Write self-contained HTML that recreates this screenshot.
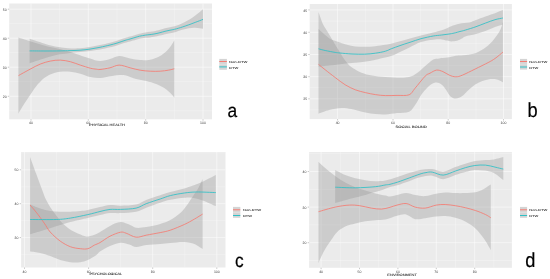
<!DOCTYPE html>
<html lang="en"><head><meta charset="utf-8"><title>Figure</title><style>html,body{margin:0;padding:0;background:#fff;overflow:hidden}body{width:550px;height:279px}</style></head><body>
<svg width="550" height="279" viewBox="0 0 550 279" text-rendering="geometricPrecision" style="display:block;font-family:'Liberation Sans',Arial,sans-serif">
<rect width="550" height="279" fill="#fff"/>
<g>
<clipPath id="cpa"><rect x="9.2" y="3.5" width="202.8" height="115.8"/></clipPath>
<rect x="9.2" y="3.5" width="202.8" height="115.8" fill="#ebebeb"/>
<path d="M9.2 23.7H212.0M9.2 52.7H212.0M9.2 81.7H212.0M9.2 110.8H212.0M59.7 3.5V119.3M117.0 3.5V119.3M174.3 3.5V119.3" stroke="#ffffff" stroke-width="0.25" fill="none"/>
<path d="M9.2 9.2H212.0M9.2 38.2H212.0M9.2 67.2H212.0M9.2 96.3H212.0M31.0 3.5V119.3M88.3 3.5V119.3M145.7 3.5V119.3M203.0 3.5V119.3" stroke="#ffffff" stroke-width="0.5" fill="none"/>
<g clip-path="url(#cpa)">
<path d="M18.4 37.5C20.2 38.1 25.4 39.8 29.4 41.0C33.4 42.2 38.0 43.7 42.3 44.9C46.6 46.1 50.9 47.0 55.2 48.1C59.5 49.2 64.0 50.1 68.1 51.3C72.2 52.5 76.3 54.0 80.0 55.2C83.7 56.4 86.7 57.5 90.0 58.5C93.3 59.5 96.7 61.0 100.0 61.1C103.3 61.2 106.8 59.9 110.0 59.1C113.2 58.3 115.8 56.2 119.1 56.1C122.4 56.0 126.6 57.8 130.1 58.5C133.6 59.2 136.8 59.9 140.2 60.1C143.5 60.3 147.2 60.2 150.2 59.7C153.2 59.2 155.8 58.2 158.2 57.1C160.5 56.0 162.5 54.6 164.3 53.1C166.2 51.6 167.6 50.2 169.3 48.1C171.0 46.0 173.5 41.7 174.3 40.4L174.3 97.7C173.6 96.9 172.0 94.7 170.3 93.1C168.6 91.5 166.7 89.6 164.3 88.1C162.0 86.6 159.2 85.3 156.2 84.1C153.2 82.9 149.5 81.9 146.2 81.1C142.8 80.3 139.4 80.0 136.1 79.1C132.8 78.2 128.9 76.3 126.1 75.6C123.3 74.9 121.8 74.9 119.1 75.0C116.4 75.1 113.1 75.8 110.0 76.3C106.9 76.8 103.7 77.9 100.4 78.0C97.1 78.1 93.8 77.8 90.4 77.1C87.1 76.4 83.7 74.6 80.3 73.7C76.9 72.8 73.6 72.0 70.3 71.7C67.0 71.4 63.2 71.4 60.2 71.7C57.2 72.0 54.9 72.6 52.2 73.7C49.5 74.8 46.9 76.0 44.2 78.1C41.5 80.2 38.5 83.6 36.1 86.4C33.8 89.2 32.1 92.0 30.1 95.0C28.1 98.0 26.1 101.0 24.1 104.1C22.2 107.2 19.3 112.1 18.4 113.7Z" fill="#999999" fill-opacity="0.37"/>
<path d="M29.6 38.8C31.7 39.5 38.0 41.6 42.3 42.9C46.6 44.2 50.9 45.5 55.2 46.4C59.5 47.3 64.0 47.9 68.1 48.2C72.2 48.5 76.3 48.5 80.0 48.3C83.7 48.1 86.7 47.6 90.0 47.1C93.3 46.6 96.7 45.8 100.0 45.1C103.3 44.4 107.2 43.4 110.0 42.7C112.8 42.0 114.5 41.6 117.0 40.8C119.5 40.0 122.8 38.7 125.0 38.0C127.2 37.3 128.2 37.1 130.0 36.6C131.8 36.1 134.4 35.2 136.0 34.7C137.6 34.2 137.9 34.1 139.5 33.7C141.1 33.3 143.7 32.7 145.4 32.4C147.2 32.1 148.6 32.0 150.0 31.8C151.4 31.6 152.3 31.5 154.0 31.2C155.7 30.9 158.2 30.3 160.0 29.8C161.8 29.3 163.3 28.7 165.0 28.3C166.7 27.9 168.4 27.5 170.0 27.2C171.6 26.9 172.9 26.8 174.5 26.3C176.1 25.9 177.8 25.3 179.7 24.5C181.6 23.7 184.0 22.5 186.2 21.3C188.3 20.1 190.7 18.7 192.6 17.4C194.5 16.1 196.1 14.9 197.8 13.6C199.5 12.2 202.1 10.0 203.0 9.3L203.0 28.7C201.7 28.6 197.6 27.9 195.2 27.8C192.8 27.7 191.0 28.0 188.8 28.3C186.7 28.6 184.5 29.2 182.3 29.8C180.1 30.4 177.9 31.3 175.8 31.9C173.8 32.5 171.8 32.8 170.0 33.2C168.2 33.6 166.7 33.9 165.0 34.3C163.3 34.7 161.8 35.2 160.0 35.6C158.2 36.0 155.7 36.5 154.0 36.8C152.3 37.1 151.4 37.2 150.0 37.4C148.6 37.6 147.2 37.6 145.4 37.8C143.7 38.0 141.1 38.4 139.5 38.7C137.9 39.0 137.6 39.2 136.0 39.7C134.4 40.2 131.8 40.9 130.0 41.4C128.2 41.9 127.2 42.1 125.0 42.8C122.8 43.5 119.5 44.6 117.0 45.4C114.5 46.1 112.8 46.6 110.0 47.3C107.2 48.0 103.3 48.9 100.0 49.5C96.7 50.1 93.3 50.7 90.0 51.1C86.7 51.5 83.7 51.8 80.0 52.1C76.3 52.5 72.2 52.7 68.1 53.2C64.0 53.7 59.5 54.2 55.2 55.2C50.9 56.2 46.6 57.8 42.3 59.1C38.0 60.5 31.7 62.6 29.6 63.3Z" fill="#999999" fill-opacity="0.37"/>
<path d="M18.5 75.6C20.4 74.5 26.5 71.1 30.1 69.2C33.7 67.3 36.9 65.4 40.2 64.1C43.6 62.7 46.9 61.8 50.2 61.1C53.5 60.4 56.9 60.0 60.2 60.1C63.6 60.2 67.0 60.9 70.3 61.7C73.6 62.5 76.9 64.0 80.3 65.1C83.7 66.2 87.7 67.5 90.4 68.2C93.1 68.9 94.8 69.0 96.4 69.2C98.0 69.4 97.7 69.7 100.0 69.5C102.3 69.3 106.8 68.5 110.0 67.8C113.2 67.1 115.8 65.1 119.1 65.1C122.4 65.1 126.6 66.9 130.1 67.8C133.6 68.7 136.8 69.6 140.2 70.2C143.5 70.8 146.9 71.0 150.2 71.2C153.5 71.4 157.2 71.4 160.2 71.2C163.2 71.0 166.0 70.6 168.3 70.2C170.7 69.8 173.3 69.0 174.3 68.8" fill="none" stroke="#f47c72" stroke-width="0.85"/>
<path d="M29.6 50.9C32.2 50.9 39.9 51.0 45.0 51.0C50.1 51.0 55.8 51.0 60.0 50.9C64.2 50.8 66.7 50.7 70.0 50.6C73.3 50.5 76.7 50.5 80.0 50.2C83.3 50.0 86.7 49.6 90.0 49.1C93.3 48.6 96.7 48.0 100.0 47.3C103.3 46.6 107.2 45.7 110.0 45.0C112.8 44.3 114.5 43.9 117.0 43.1C119.5 42.3 122.8 41.1 125.0 40.4C127.2 39.7 128.2 39.5 130.0 39.0C131.8 38.5 134.4 37.7 136.0 37.2C137.6 36.7 137.9 36.6 139.5 36.2C141.1 35.9 143.7 35.4 145.4 35.1C147.2 34.8 148.6 34.8 150.0 34.6C151.4 34.4 152.3 34.3 154.0 34.0C155.7 33.7 158.2 33.2 160.0 32.7C161.8 32.2 163.3 31.7 165.0 31.3C166.7 30.9 168.4 30.5 170.0 30.2C171.6 29.9 172.4 29.8 174.5 29.3C176.6 28.8 179.9 27.8 182.3 27.0C184.7 26.2 186.7 25.6 188.8 24.8C191.0 24.0 192.8 23.3 195.2 22.4C197.6 21.5 201.7 19.9 203.0 19.4" fill="none" stroke="#2fc0c6" stroke-width="0.85"/>
</g>
<path d="M7.8 9.2H9.2M7.8 38.2H9.2M7.8 67.2H9.2M7.8 96.3H9.2M31.0 119.3V120.7M88.3 119.3V120.7M145.7 119.3V120.7M203.0 119.3V120.7" stroke="#777" stroke-width="0.4" fill="none"/>
<g font-size="3.5" fill="#3a3a3a">
<text x="6.6" y="10.6" text-anchor="end">50</text>
<text x="6.6" y="39.7" text-anchor="end">40</text>
<text x="6.6" y="68.7" text-anchor="end">30</text>
<text x="6.6" y="97.8" text-anchor="end">20</text>
<text x="31.0" y="123.8" text-anchor="middle">40</text>
<text x="88.3" y="123.8" text-anchor="middle">60</text>
<text x="145.7" y="123.8" text-anchor="middle">80</text>
<text x="203.0" y="123.8" text-anchor="middle">100</text>
</g>
<text x="89.0" y="126.4" font-size="3.3" fill="#1a1a1a" stroke="#1a1a1a" stroke-width="0.06" textLength="36.0" lengthAdjust="spacingAndGlyphs">PHYSICAL HEALTH</text>
<rect x="219.3" y="58.9" width="7.6" height="10.9" fill="#d4d4d4"/>
<path d="M219.3 64.3H226.9" stroke="#fff" stroke-width="0.3"/>
<path d="M219.3 61.5H226.9" stroke="#f47c72" stroke-width="1"/>
<path d="M219.3 66.9H226.9" stroke="#2fc0c6" stroke-width="1"/>
<g font-size="2.9" fill="#222" stroke="#222" stroke-width="0.05">
<text x="229.1" y="63.0" textLength="18.2" lengthAdjust="spacingAndGlyphs">Non-RTW</text>
<text x="229.1" y="68.5" textLength="9.1" lengthAdjust="spacingAndGlyphs">RTW</text>
</g>
<text transform="translate(232.2 116.8) scale(0.9 1)" font-size="19.3" fill="#000" stroke="#000" stroke-width="0.2" text-anchor="middle">a</text>
</g>
<g>
<clipPath id="cpb"><rect x="309.7" y="4.0" width="202.2" height="115.1"/></clipPath>
<rect x="309.7" y="4.0" width="202.2" height="115.1" fill="#ebebeb"/>
<path d="M309.7 21.1H511.9M309.7 43.4H511.9M309.7 65.6H511.9M309.7 87.7H511.9M309.7 109.9H511.9M365.3 4.0V119.1M420.7 4.0V119.1M476.0 4.0V119.1" stroke="#ffffff" stroke-width="0.25" fill="none"/>
<path d="M309.7 9.9H511.9M309.7 32.3H511.9M309.7 54.5H511.9M309.7 76.7H511.9M309.7 98.8H511.9M337.6 4.0V119.1M393.0 4.0V119.1M448.2 4.0V119.1M503.5 4.0V119.1" stroke="#ffffff" stroke-width="0.5" fill="none"/>
<g clip-path="url(#cpb)">
<path d="M318.5 12.0C319.2 14.0 321.5 20.9 322.9 24.0C324.3 27.1 325.5 28.4 326.8 30.5C328.1 32.6 329.4 34.8 330.7 36.9C332.0 39.0 333.2 41.2 334.5 43.4C335.8 45.5 337.1 47.6 338.4 49.8C339.7 51.9 341.2 54.6 342.3 56.3C343.4 58.0 343.9 58.8 344.8 60.0C345.7 61.2 346.6 62.5 347.8 63.8C349.0 65.1 350.1 66.3 352.0 67.6C353.9 68.9 356.4 70.5 359.3 71.7C362.2 73.0 365.6 74.2 369.3 75.1C373.0 75.9 376.8 76.4 381.4 76.8C386.0 77.2 392.4 77.7 397.0 77.7C401.6 77.8 405.8 77.9 409.1 77.1C412.5 76.3 414.4 74.9 417.1 73.1C419.8 71.3 422.5 68.3 425.2 66.1C427.9 63.8 430.9 60.9 433.2 59.6C435.5 58.3 436.9 58.7 439.2 58.4C441.5 58.1 444.4 58.0 447.2 57.6C450.0 57.2 452.9 56.2 456.0 55.8C459.1 55.4 462.7 55.5 466.0 55.0C469.3 54.5 472.6 54.3 476.0 53.0C479.4 51.7 483.2 49.4 486.2 47.1C489.2 44.8 491.9 41.9 494.2 39.0C496.5 36.1 498.8 32.8 500.2 30.0C501.6 27.2 502.4 23.3 502.9 22.0L502.9 82.2C502.2 81.9 500.4 80.7 499.0 80.2C497.6 79.7 496.4 79.2 494.6 79.1C492.8 79.0 490.2 79.0 488.1 79.4C486.0 79.8 483.9 80.5 481.7 81.3C479.5 82.1 477.3 83.1 475.2 84.5C473.1 85.9 470.9 87.8 468.8 89.7C466.7 91.6 464.4 94.5 462.3 96.0C460.2 97.5 458.0 98.5 456.0 98.6C454.0 98.7 452.0 97.8 450.5 96.5C449.0 95.2 448.1 92.8 446.8 91.0C445.5 89.2 444.2 87.1 442.9 85.8C441.6 84.5 440.3 83.5 439.0 83.0C437.7 82.5 436.7 82.2 435.2 82.6C433.7 83.0 431.7 84.0 430.0 85.2C428.3 86.4 426.7 88.4 425.2 90.0C423.7 91.6 422.8 92.5 421.1 95.0C419.4 97.5 417.1 102.3 415.1 105.1C413.1 107.9 412.1 110.4 409.1 111.7C406.1 113.0 400.9 112.6 397.0 113.1C393.1 113.6 389.0 114.3 385.4 114.5C381.8 114.7 378.8 114.4 375.4 114.1C372.0 113.8 369.3 113.3 365.3 112.5C361.3 111.7 355.3 109.8 351.3 109.1C347.3 108.4 344.9 107.9 341.2 108.1C337.5 108.3 333.0 109.2 329.2 110.1C325.4 111.0 320.3 113.1 318.5 113.7Z" fill="#999999" fill-opacity="0.37"/>
<path d="M318.5 29.1C319.6 30.1 323.1 33.4 325.2 35.1C327.3 36.8 328.7 38.3 331.2 39.5C333.7 40.7 337.4 41.6 340.0 42.5C342.6 43.4 344.4 44.1 347.0 44.8C349.6 45.4 352.4 46.1 355.3 46.4C358.2 46.7 361.1 46.8 364.5 46.8C367.9 46.8 371.9 46.5 375.4 46.2C378.9 45.9 382.7 45.2 385.4 44.8C388.1 44.4 389.3 44.2 391.7 43.6C394.1 43.0 396.9 42.1 400.0 41.2C403.1 40.3 406.5 39.4 410.0 38.4C413.5 37.4 417.1 36.4 421.0 35.4C424.9 34.4 429.8 33.4 433.2 32.5C436.6 31.6 439.4 30.9 441.7 30.2C444.0 29.5 445.4 29.0 447.0 28.3C448.6 27.6 449.2 27.0 451.3 26.2C453.4 25.4 456.3 24.3 459.3 23.7C462.3 23.1 466.5 23.1 469.3 22.5C472.1 21.9 473.3 21.1 476.0 20.1C478.7 19.1 482.2 17.6 485.4 16.5C488.6 15.3 492.1 14.3 495.0 13.2C497.9 12.1 501.6 10.5 502.9 10.0L502.9 24.5C501.6 24.9 497.9 26.0 495.0 27.1C492.1 28.2 488.6 29.9 485.4 31.1C482.2 32.3 479.4 33.2 476.0 34.1C472.6 35.0 467.6 35.8 465.3 36.5C463.0 37.2 463.4 37.8 462.0 38.5C460.6 39.2 458.8 40.3 457.0 40.8C455.2 41.3 453.0 41.4 451.3 41.4C449.6 41.4 448.6 40.9 447.0 40.6C445.4 40.3 444.0 39.5 441.7 39.4C439.4 39.3 436.6 39.4 433.2 39.8C429.8 40.2 424.9 40.8 421.0 42.0C417.1 43.2 413.5 45.5 410.0 47.2C406.5 48.9 403.1 50.6 400.0 52.0C396.9 53.4 395.4 54.6 391.7 55.8C388.0 57.0 382.5 58.2 378.0 59.2C373.5 60.2 368.8 61.1 364.5 61.7C360.2 62.3 356.1 62.6 352.0 63.0C347.9 63.4 343.8 63.8 340.0 64.2C336.2 64.6 332.8 65.2 329.2 65.6C325.6 66.0 320.3 66.6 318.5 66.8Z" fill="#999999" fill-opacity="0.37"/>
<path d="M318.5 64.4C319.6 65.3 322.2 67.4 325.0 69.6C327.8 71.8 331.8 75.0 335.2 77.5C338.6 80.0 341.8 82.8 345.2 84.8C348.6 86.8 351.9 88.5 355.3 89.8C358.7 91.1 362.0 91.8 365.3 92.6C368.6 93.4 372.0 94.1 375.4 94.6C378.8 95.1 381.8 95.5 385.4 95.6C389.0 95.7 393.1 95.5 397.0 95.4C400.9 95.3 406.1 96.0 409.1 94.8C412.1 93.6 412.4 91.3 415.1 88.2C417.8 85.1 422.7 78.6 425.2 76.1C427.7 73.6 428.1 74.2 430.0 73.2C431.9 72.2 434.4 70.4 436.5 70.1C438.6 69.8 440.8 70.8 442.9 71.6C445.0 72.4 447.2 74.3 449.4 75.2C451.5 76.1 453.6 76.8 455.8 76.8C458.0 76.8 459.1 76.5 462.3 75.2C465.5 73.9 470.9 71.1 475.2 69.0C479.5 66.9 484.8 64.3 488.1 62.6C491.4 60.9 492.5 60.2 495.0 58.5C497.5 56.8 501.6 53.2 502.9 52.1" fill="none" stroke="#f47c72" stroke-width="0.85"/>
<path d="M318.5 48.8C319.6 49.1 322.4 49.9 325.2 50.5C328.0 51.1 332.7 52.0 335.2 52.4C337.7 52.8 337.2 52.7 340.0 53.0C342.8 53.3 347.9 53.8 352.0 54.0C356.1 54.2 360.6 54.3 364.5 54.2C368.4 54.1 371.9 53.7 375.4 53.2C378.9 52.7 382.7 52.0 385.4 51.2C388.1 50.4 389.3 49.5 391.7 48.6C394.1 47.7 396.9 46.7 400.0 45.6C403.1 44.5 406.5 43.4 410.0 42.3C413.5 41.1 417.1 39.8 421.0 38.7C424.9 37.7 429.8 36.6 433.2 36.0C436.6 35.4 438.9 35.4 441.7 35.0C444.5 34.6 447.7 34.3 450.0 33.9C452.3 33.5 453.6 33.2 455.3 32.8C457.0 32.4 458.3 31.9 460.0 31.5C461.7 31.1 462.6 30.9 465.3 30.1C468.0 29.3 472.6 27.9 476.0 26.7C479.4 25.5 482.2 24.3 485.4 23.1C488.6 21.9 492.1 20.6 495.0 19.7C497.9 18.8 501.6 18.3 502.9 18.0" fill="none" stroke="#2fc0c6" stroke-width="0.85"/>
</g>
<path d="M308.3 9.9H309.7M308.3 32.3H309.7M308.3 54.5H309.7M308.3 76.7H309.7M308.3 98.8H309.7M337.6 119.1V120.5M393.0 119.1V120.5M448.2 119.1V120.5M503.5 119.1V120.5" stroke="#777" stroke-width="0.4" fill="none"/>
<g font-size="3.5" fill="#3a3a3a">
<text x="307.1" y="11.5" text-anchor="end">45</text>
<text x="307.1" y="33.9" text-anchor="end">40</text>
<text x="307.1" y="56.1" text-anchor="end">35</text>
<text x="307.1" y="78.2" text-anchor="end">30</text>
<text x="307.1" y="100.4" text-anchor="end">25</text>
<text x="337.6" y="123.7" text-anchor="middle">40</text>
<text x="393.0" y="123.7" text-anchor="middle">60</text>
<text x="448.2" y="123.7" text-anchor="middle">80</text>
<text x="503.5" y="123.7" text-anchor="middle">100</text>
</g>
<text x="395.4" y="128.0" font-size="3.3" fill="#1a1a1a" stroke="#1a1a1a" stroke-width="0.06" textLength="31.4" lengthAdjust="spacingAndGlyphs">SOCIAL BOUND</text>
<rect x="520.0" y="58.9" width="7.1" height="10.7" fill="#d4d4d4"/>
<path d="M520.0 64.2H527.1" stroke="#fff" stroke-width="0.3"/>
<path d="M520.0 61.5H527.1" stroke="#f47c72" stroke-width="1"/>
<path d="M520.0 67.0H527.1" stroke="#2fc0c6" stroke-width="1"/>
<g font-size="2.9" fill="#222" stroke="#222" stroke-width="0.05">
<text x="529.3" y="63.0" textLength="17.9" lengthAdjust="spacingAndGlyphs">Non-RTW</text>
<text x="529.3" y="68.5" textLength="9.0" lengthAdjust="spacingAndGlyphs">RTW</text>
</g>
<text transform="translate(532.6 117.2) scale(0.9 1)" font-size="20.3" fill="#000" stroke="#000" stroke-width="0.2" text-anchor="middle">b</text>
</g>
<g>
<clipPath id="cpc"><rect x="21.1" y="152.0" width="204.4" height="115.5"/></clipPath>
<rect x="21.1" y="152.0" width="204.4" height="115.5" fill="#ebebeb"/>
<path d="M21.1 152.9H225.5M21.1 186.8H225.5M21.1 220.7H225.5M21.1 254.6H225.5M56.6 152.0V267.5M120.7 152.0V267.5M184.8 152.0V267.5" stroke="#ffffff" stroke-width="0.25" fill="none"/>
<path d="M21.1 169.8H225.5M21.1 203.7H225.5M21.1 237.6H225.5M24.5 152.0V267.5M88.6 152.0V267.5M152.7 152.0V267.5M216.8 152.0V267.5" stroke="#ffffff" stroke-width="0.5" fill="none"/>
<g clip-path="url(#cpc)">
<path d="M30.1 157.0C31.1 159.7 34.0 167.8 36.0 173.3C38.0 178.8 40.5 185.6 42.2 190.0C43.9 194.4 44.5 196.7 46.2 200.0C47.9 203.3 50.2 207.1 52.2 210.1C54.2 213.1 56.5 215.9 58.2 218.1C59.9 220.3 60.5 221.4 62.2 223.1C63.9 224.8 66.0 226.6 68.3 228.2C70.6 229.8 73.6 231.5 76.3 232.8C79.0 234.1 82.3 235.4 84.3 236.0C86.3 236.6 86.4 236.8 88.4 236.5C90.4 236.2 94.5 234.8 96.4 234.0C98.3 233.2 97.7 233.3 100.0 232.0C102.3 230.7 106.6 227.6 110.0 225.9C113.4 224.2 117.2 222.2 120.5 222.1C123.8 222.0 127.5 224.1 130.1 225.1C132.7 226.1 133.4 227.5 136.1 227.8C138.8 228.1 142.2 227.7 146.2 227.1C150.2 226.5 156.2 225.3 160.2 224.1C164.2 222.9 167.0 221.9 170.3 220.1C173.7 218.3 177.6 215.4 180.3 213.1C183.0 210.8 184.6 208.3 186.3 206.1C188.0 203.9 189.1 202.0 190.4 200.0C191.8 198.0 193.1 196.0 194.4 194.0C195.7 192.0 197.0 190.5 198.4 188.0C199.8 185.5 201.9 180.6 202.6 179.1L202.6 249.1C201.2 248.3 197.4 245.3 194.4 244.1C191.4 242.9 188.3 242.3 184.3 242.1C180.3 241.9 174.3 242.8 170.3 243.1C166.3 243.4 164.2 243.8 160.2 244.1C156.2 244.4 150.2 244.6 146.2 245.1C142.2 245.6 138.8 247.2 136.1 247.1C133.4 247.0 132.7 245.4 130.1 244.7C127.5 244.0 123.8 242.5 120.5 242.7C117.2 242.9 113.4 244.6 110.0 246.1C106.6 247.6 102.3 250.1 100.0 251.6C97.7 253.1 98.4 253.7 96.4 255.1C94.4 256.5 90.5 258.9 87.8 260.1C85.1 261.3 83.2 261.9 80.3 262.2C77.4 262.5 73.6 262.5 70.3 262.2C67.0 261.9 63.6 261.1 60.2 260.1C56.9 259.1 53.5 257.3 50.2 256.1C46.9 254.9 43.6 253.9 40.2 253.1C36.9 252.3 31.8 251.8 30.1 251.5Z" fill="#999999" fill-opacity="0.37"/>
<path d="M30.1 204.5C31.8 205.2 36.9 207.4 40.2 208.5C43.6 209.6 46.9 210.6 50.2 211.1C53.5 211.6 56.9 211.6 60.2 211.7C63.6 211.8 67.0 211.8 70.3 211.7C73.6 211.6 77.4 211.4 80.3 211.1C83.2 210.8 84.5 210.8 87.8 210.1C91.1 209.4 96.3 207.9 100.0 207.1C103.7 206.3 106.6 205.3 110.0 205.1C113.4 204.9 116.2 205.8 120.5 205.7C124.8 205.6 131.8 205.4 136.1 204.5C140.4 203.6 142.2 201.6 146.2 200.0C150.2 198.4 156.2 196.5 160.2 195.2C164.2 193.9 166.3 193.1 170.3 192.0C174.3 190.9 180.7 189.4 184.4 188.4C188.1 187.4 189.3 186.9 192.3 185.8C195.3 184.7 198.7 183.6 202.6 181.8C206.5 180.0 213.6 176.2 215.8 175.1L215.8 206.1C213.6 205.2 206.5 201.8 202.6 200.4C198.7 199.0 195.4 198.2 192.4 197.8C189.4 197.4 188.0 197.5 184.3 197.8C180.6 198.1 174.3 199.0 170.3 199.8C166.3 200.6 164.2 201.5 160.2 202.8C156.2 204.1 150.2 206.2 146.2 207.7C142.2 209.2 140.4 210.8 136.1 211.7C131.8 212.6 124.8 212.9 120.5 213.1C116.2 213.3 113.4 212.8 110.0 213.1C106.6 213.4 103.7 214.3 100.0 215.1C96.3 215.9 91.1 217.3 87.8 218.1C84.5 218.9 83.2 219.0 80.3 219.7C77.4 220.4 73.6 221.2 70.3 222.1C67.0 223.0 63.6 224.1 60.2 225.1C56.9 226.1 53.5 227.2 50.2 228.2C46.9 229.2 43.6 230.2 40.2 231.2C36.9 232.2 31.8 233.7 30.1 234.2Z" fill="#999999" fill-opacity="0.37"/>
<path d="M30.1 205.1C31.1 206.3 33.8 209.1 36.1 212.1C38.5 215.1 41.9 219.8 44.2 223.1C46.6 226.4 47.5 229.0 50.2 232.0C52.9 235.0 56.9 238.7 60.2 241.1C63.6 243.5 67.0 245.4 70.3 246.7C73.6 248.0 77.4 248.4 80.3 248.7C83.2 249.0 85.4 249.3 87.8 248.7C90.2 248.1 92.4 246.1 94.4 245.1C96.4 244.1 97.4 244.1 100.0 242.6C102.6 241.1 106.6 237.9 110.0 236.2C113.4 234.5 117.8 232.7 120.5 232.2C123.2 231.7 123.5 232.4 126.1 233.2C128.7 234.0 132.8 236.9 136.1 237.2C139.4 237.5 142.2 236.0 146.2 235.2C150.2 234.4 156.2 233.4 160.2 232.6C164.2 231.8 166.3 231.5 170.3 230.2C174.3 228.8 180.3 226.3 184.3 224.5C188.3 222.7 191.4 220.8 194.4 219.1C197.4 217.4 201.2 214.9 202.6 214.1" fill="none" stroke="#f47c72" stroke-width="0.85"/>
<path d="M30.1 219.5C34.5 219.5 49.5 219.7 56.2 219.5C62.9 219.3 65.0 218.9 70.3 218.1C75.6 217.3 82.8 215.7 87.8 214.6C92.8 213.5 96.3 212.4 100.0 211.5C103.7 210.6 106.6 209.8 110.0 209.4C113.4 209.1 116.2 209.6 120.5 209.4C124.8 209.2 131.8 209.1 136.1 208.1C140.4 207.1 142.2 205.2 146.2 203.7C150.2 202.2 156.2 200.3 160.2 199.0C164.2 197.7 166.3 196.6 170.3 195.6C174.3 194.6 180.0 193.6 184.3 193.0C188.7 192.4 191.2 192.1 196.4 192.0C201.7 191.9 212.6 192.5 215.8 192.6" fill="none" stroke="#2fc0c6" stroke-width="0.85"/>
</g>
<path d="M19.7 169.8H21.1M19.7 203.7H21.1M19.7 237.6H21.1M24.5 267.5V268.9M88.6 267.5V268.9M152.7 267.5V268.9M216.8 267.5V268.9" stroke="#777" stroke-width="0.4" fill="none"/>
<g font-size="3.5" fill="#3a3a3a">
<text x="18.5" y="171.2" text-anchor="end">50</text>
<text x="18.5" y="205.1" text-anchor="end">40</text>
<text x="18.5" y="239.0" text-anchor="end">30</text>
<text x="24.5" y="272.6" text-anchor="middle">40</text>
<text x="88.6" y="272.6" text-anchor="middle">60</text>
<text x="152.7" y="272.6" text-anchor="middle">80</text>
<text x="216.8" y="272.6" text-anchor="middle">100</text>
</g>
<text x="89.4" y="275.2" font-size="3.3" fill="#1a1a1a" stroke="#1a1a1a" stroke-width="0.06" textLength="32.7" lengthAdjust="spacingAndGlyphs">PSYCHOLOGICAL</text>
<rect x="233.0" y="206.9" width="7.3" height="10.9" fill="#d4d4d4"/>
<path d="M233.0 212.3H240.3" stroke="#fff" stroke-width="0.3"/>
<path d="M233.0 209.8H240.3" stroke="#f47c72" stroke-width="1"/>
<path d="M233.0 215.5H240.3" stroke="#2fc0c6" stroke-width="1"/>
<g font-size="2.9" fill="#222" stroke="#222" stroke-width="0.05">
<text x="243.0" y="211.4" textLength="18.0" lengthAdjust="spacingAndGlyphs">Non-RTW</text>
<text x="243.0" y="216.8" textLength="9.0" lengthAdjust="spacingAndGlyphs">RTW</text>
</g>
<text transform="translate(239.3 267.4) scale(0.9 1)" font-size="19.3" fill="#000" stroke="#000" stroke-width="0.2" text-anchor="middle">c</text>
</g>
<g>
<clipPath id="cpd"><rect x="309.1" y="152.0" width="202.8" height="115.8"/></clipPath>
<rect x="309.1" y="152.0" width="202.8" height="115.8" fill="#ebebeb"/>
<path d="M309.1 153.7H511.9M309.1 189.3H511.9M309.1 224.9H511.9M309.1 260.5H511.9M340.3 152.0V267.8M378.7 152.0V267.8M417.1 152.0V267.8M455.5 152.0V267.8M493.9 152.0V267.8" stroke="#ffffff" stroke-width="0.25" fill="none"/>
<path d="M309.1 171.5H511.9M309.1 207.1H511.9M309.1 242.7H511.9M321.1 152.0V267.8M359.5 152.0V267.8M397.9 152.0V267.8M436.3 152.0V267.8M474.7 152.0V267.8" stroke="#ffffff" stroke-width="0.5" fill="none"/>
<g clip-path="url(#cpd)">
<path d="M318.5 161.7C319.6 162.8 322.4 165.7 325.2 168.1C328.0 170.5 331.9 173.7 335.2 176.1C338.5 178.5 341.8 180.8 345.2 182.6C348.6 184.4 351.9 185.9 355.3 187.2C358.7 188.5 362.0 189.5 365.3 190.5C368.6 191.5 372.0 192.6 375.4 193.4C378.8 194.2 383.0 195.0 385.4 195.5C387.8 196.0 388.1 196.6 390.0 196.5C391.9 196.4 394.3 195.7 397.0 195.1C399.7 194.5 403.1 193.1 406.1 193.1C409.1 193.1 411.9 194.6 415.1 195.1C418.3 195.6 421.7 196.3 425.2 196.1C428.7 195.9 432.9 194.3 436.2 193.7C439.5 193.1 442.0 192.5 445.2 192.4C448.4 192.3 451.9 193.0 455.3 193.1C458.7 193.2 462.0 193.2 465.3 193.1C468.6 192.9 472.4 192.8 475.4 192.2C478.4 191.5 480.8 190.5 483.4 189.2C486.0 187.9 489.6 185.4 490.8 184.6L490.8 250.1C489.7 248.3 486.8 242.7 484.2 239.1C481.6 235.5 478.5 231.4 475.4 228.5C472.2 225.6 468.6 223.4 465.3 221.6C462.0 219.8 458.7 218.7 455.3 217.8C451.9 216.9 448.4 216.3 445.2 216.1C442.0 215.9 439.5 216.2 436.2 216.5C432.9 216.8 428.7 217.8 425.2 218.2C421.7 218.6 418.3 219.8 415.1 219.2C411.9 218.6 409.1 215.1 406.1 214.5C403.1 213.9 400.4 214.9 397.0 215.7C393.6 216.5 389.0 218.8 385.4 219.5C381.8 220.2 378.8 219.9 375.4 220.2C372.0 220.5 368.6 220.6 365.3 221.2C362.0 221.8 358.7 222.6 355.3 223.5C351.9 224.4 348.2 225.1 345.2 226.5C342.2 227.9 339.5 229.7 337.2 232.0C334.9 234.3 333.2 237.2 331.2 240.1C329.2 242.9 326.9 246.3 325.2 249.1C323.5 251.9 322.2 254.8 321.1 257.1C320.0 259.5 318.9 262.2 318.5 263.2Z" fill="#999999" fill-opacity="0.37"/>
<path d="M335.2 170.1C336.9 170.9 341.8 173.8 345.2 175.1C348.6 176.4 351.9 177.3 355.3 178.2C358.7 179.0 362.0 179.7 365.3 180.2C368.6 180.7 372.0 181.1 375.4 181.2C378.8 181.2 381.7 181.2 385.4 180.5C389.1 179.8 393.4 178.3 397.4 177.1C401.3 175.9 405.2 174.3 409.1 173.1C413.1 171.9 417.2 170.4 421.1 169.7C425.0 169.0 428.5 168.8 432.2 169.1C435.9 169.4 439.3 172.0 443.2 171.7C447.1 171.4 451.6 168.4 455.3 167.1C459.0 165.8 462.1 164.7 465.3 163.7C468.6 162.7 471.5 161.7 474.8 161.1C478.1 160.5 482.2 160.4 485.4 160.1C488.6 159.8 490.8 159.9 493.8 159.4C496.8 158.9 501.7 157.4 503.3 157.0L503.3 180.1C501.7 178.9 496.8 174.7 493.8 173.1C490.8 171.5 488.6 171.0 485.4 170.5C482.2 170.0 478.1 169.8 474.8 170.1C471.5 170.4 468.6 171.3 465.3 172.1C462.1 172.9 459.0 173.9 455.3 175.1C451.6 176.3 447.1 179.1 443.2 179.2C439.3 179.3 435.9 176.0 432.2 175.7C428.5 175.3 425.0 176.2 421.1 177.1C417.2 178.0 413.1 179.8 409.1 181.2C405.2 182.5 400.6 184.2 397.4 185.2C394.2 186.2 392.7 186.2 390.0 187.0C387.3 187.8 384.5 189.2 381.4 190.2C378.3 191.2 374.0 192.2 371.3 193.0C368.6 193.8 368.0 194.2 365.3 194.9C362.6 195.7 358.7 196.6 355.3 197.5C351.9 198.4 348.6 199.3 345.2 200.2C341.8 201.1 336.9 202.5 335.2 203.0Z" fill="#999999" fill-opacity="0.37"/>
<path d="M318.5 211.7C321.3 210.9 330.1 208.2 335.2 207.1C340.3 206.0 345.2 205.3 349.3 205.1C353.4 204.9 356.0 205.2 359.7 205.7C363.4 206.2 367.7 207.5 371.3 208.1C374.9 208.7 378.3 209.2 381.4 209.1C384.5 209.0 387.4 208.0 390.0 207.3C392.6 206.6 394.3 205.7 397.0 205.1C399.7 204.5 403.1 203.2 406.1 203.5C409.1 203.8 411.9 206.3 415.1 207.1C418.3 207.9 421.7 208.4 425.2 208.1C428.7 207.8 432.9 205.7 436.2 205.1C439.5 204.5 442.0 204.4 445.2 204.5C448.4 204.6 451.9 205.2 455.3 205.7C458.7 206.2 462.0 206.9 465.3 207.7C468.6 208.5 472.0 209.4 475.4 210.5C478.8 211.6 482.8 213.3 485.4 214.5C488.0 215.7 489.9 217.2 490.8 217.8" fill="none" stroke="#f47c72" stroke-width="0.85"/>
<path d="M335.2 187.2C338.6 187.3 348.6 187.9 355.3 187.8C362.0 187.7 370.4 187.2 375.4 186.7C380.3 186.2 382.6 185.4 385.0 185.0C387.4 184.6 387.9 184.8 390.0 184.3C392.1 183.8 395.2 182.9 397.4 182.2C399.6 181.5 401.1 180.9 403.0 180.2C404.9 179.5 407.2 178.7 409.1 178.0C411.0 177.3 412.5 176.7 414.5 176.0C416.5 175.3 419.2 174.3 421.1 173.7C423.0 173.1 424.1 172.9 426.0 172.6C427.9 172.3 429.3 171.7 432.2 172.1C435.1 172.5 439.3 175.3 443.2 175.1C447.1 174.9 451.6 172.3 455.3 171.1C459.0 169.9 462.1 168.6 465.3 167.7C468.6 166.8 471.5 165.9 474.8 165.5C478.1 165.1 482.0 164.8 485.4 165.1C488.8 165.4 492.0 166.4 495.0 167.1C498.0 167.8 501.9 168.8 503.3 169.1" fill="none" stroke="#2fc0c6" stroke-width="0.85"/>
</g>
<path d="M307.7 171.5H309.1M307.7 207.1H309.1M307.7 242.7H309.1M321.1 267.8V269.2M359.5 267.8V269.2M397.9 267.8V269.2M436.3 267.8V269.2M474.7 267.8V269.2" stroke="#777" stroke-width="0.4" fill="none"/>
<g font-size="3.5" fill="#3a3a3a">
<text x="306.5" y="172.9" text-anchor="end">40</text>
<text x="306.5" y="208.5" text-anchor="end">30</text>
<text x="306.5" y="244.1" text-anchor="end">20</text>
<text x="321.1" y="272.6" text-anchor="middle">40</text>
<text x="359.5" y="272.6" text-anchor="middle">50</text>
<text x="397.9" y="272.6" text-anchor="middle">60</text>
<text x="436.3" y="272.6" text-anchor="middle">70</text>
<text x="474.7" y="272.6" text-anchor="middle">80</text>
</g>
<text x="387.3" y="276.1" font-size="3.3" fill="#1a1a1a" stroke="#1a1a1a" stroke-width="0.06" textLength="29.7" lengthAdjust="spacingAndGlyphs">ENVIRONMENT</text>
<rect x="520.0" y="206.9" width="7.1" height="10.9" fill="#d4d4d4"/>
<path d="M520.0 212.3H527.1" stroke="#fff" stroke-width="0.3"/>
<path d="M520.0 209.8H527.1" stroke="#f47c72" stroke-width="1"/>
<path d="M520.0 215.5H527.1" stroke="#2fc0c6" stroke-width="1"/>
<g font-size="2.9" fill="#222" stroke="#222" stroke-width="0.05">
<text x="529.3" y="211.4" textLength="17.9" lengthAdjust="spacingAndGlyphs">Non-RTW</text>
<text x="529.3" y="216.8" textLength="9.0" lengthAdjust="spacingAndGlyphs">RTW</text>
</g>
<text transform="translate(530.4 267.0) scale(0.9 1)" font-size="20.3" fill="#000" stroke="#000" stroke-width="0.2" text-anchor="middle">d</text>
</g>
</svg>
</body></html>
